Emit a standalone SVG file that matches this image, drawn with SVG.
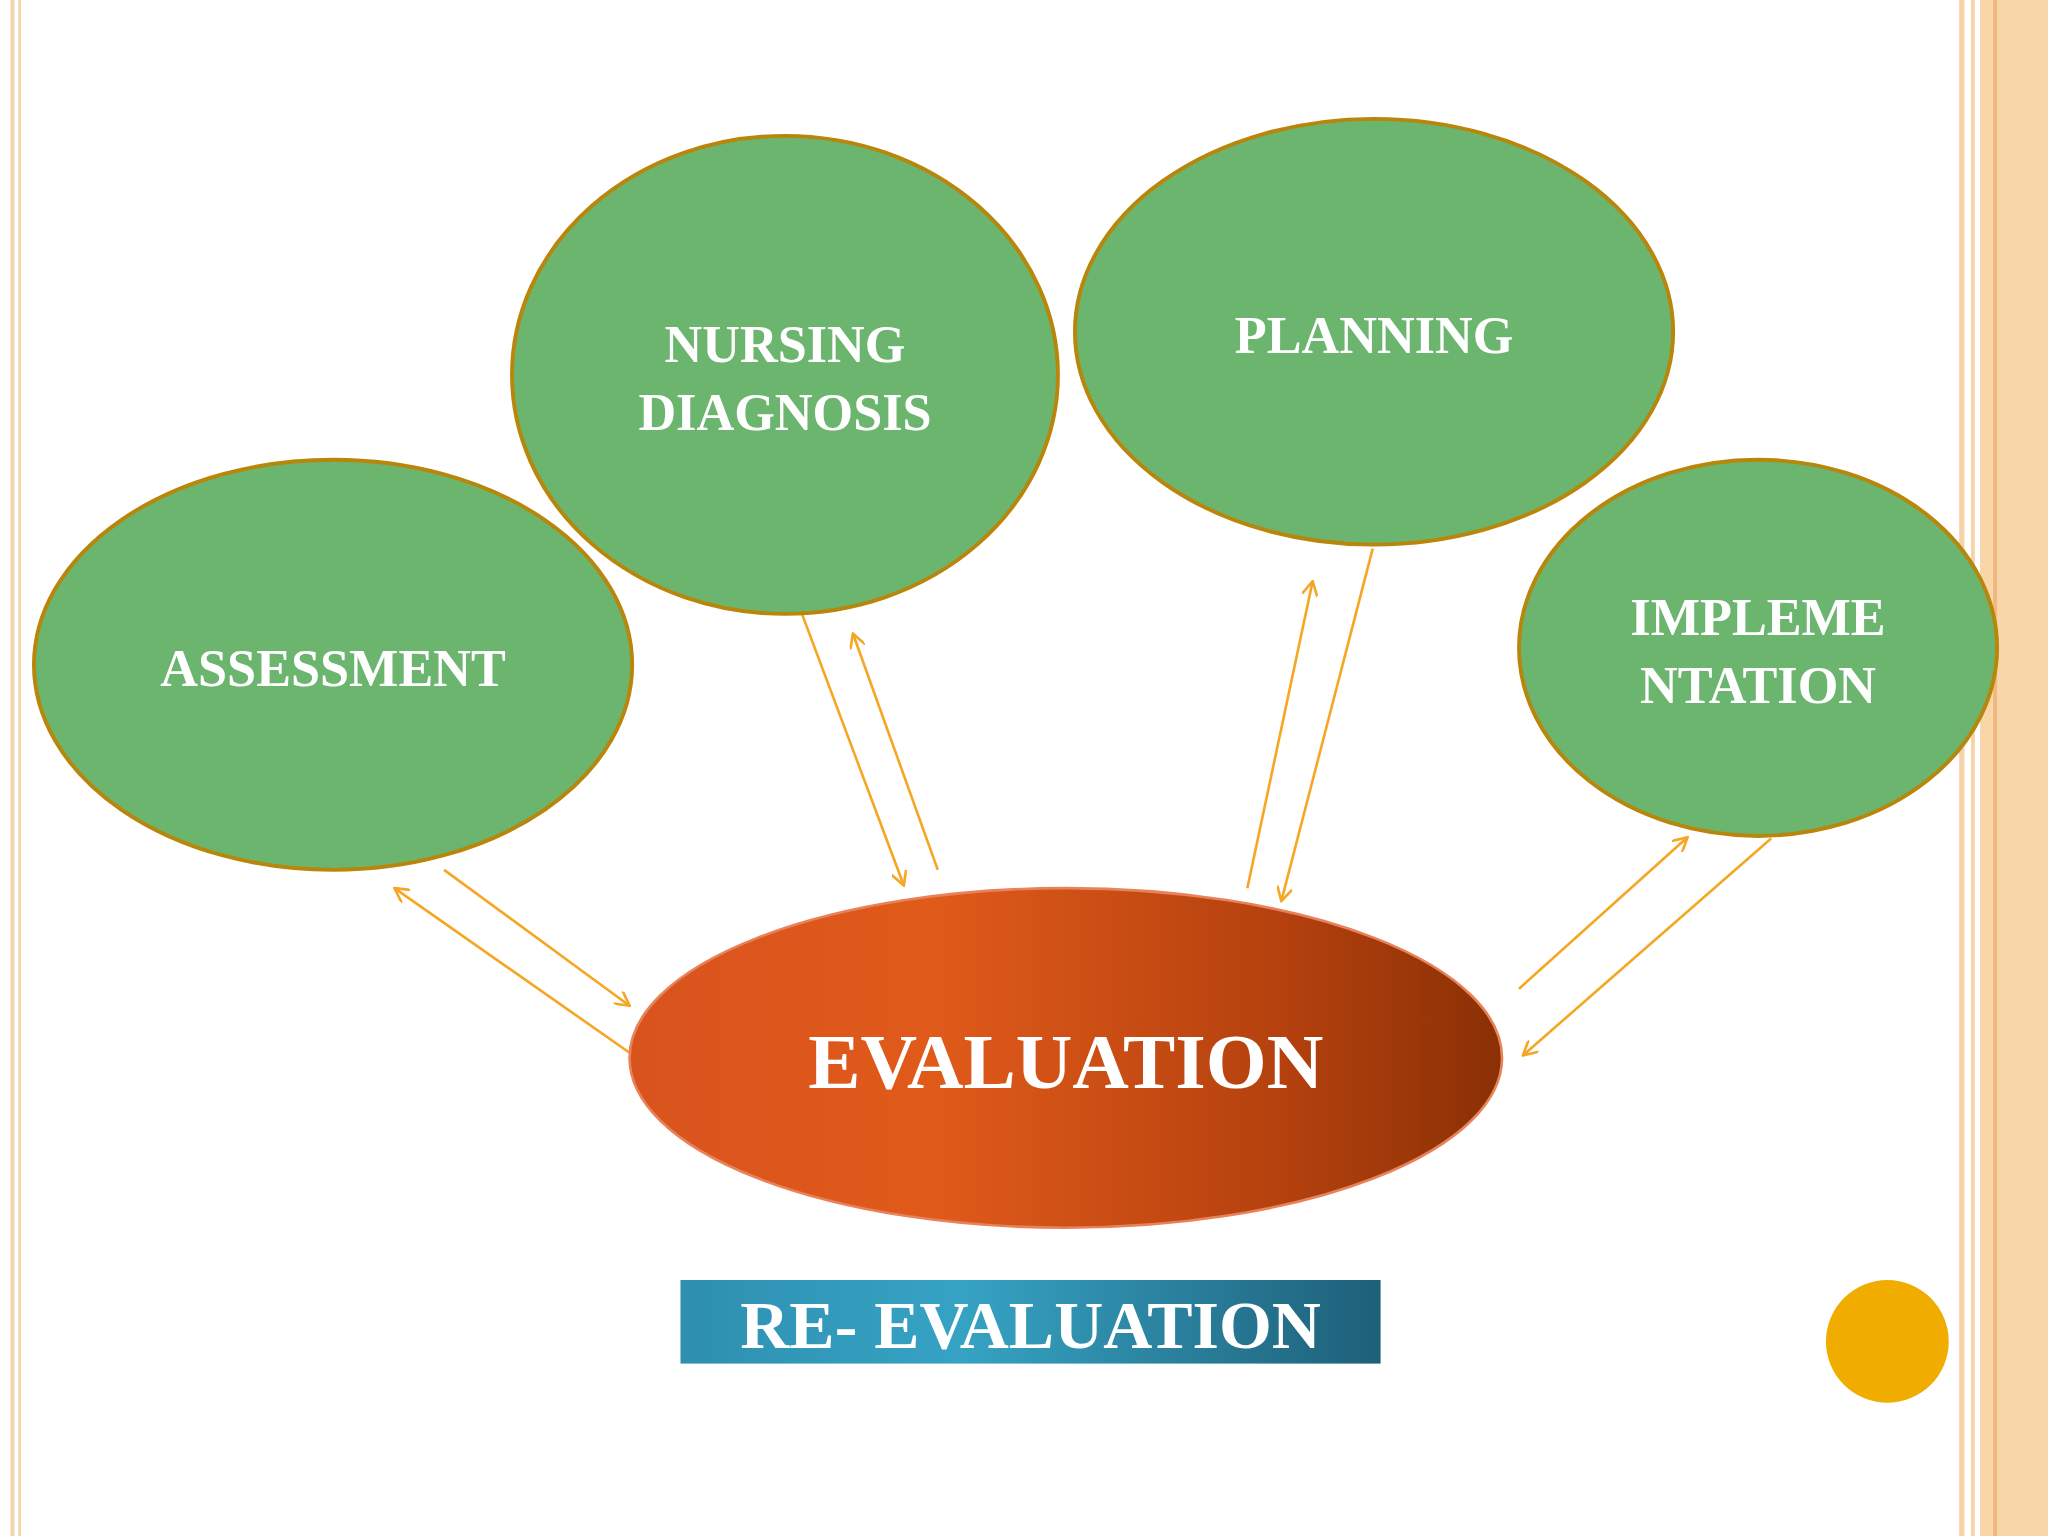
<svg xmlns="http://www.w3.org/2000/svg" width="2048" height="1536" viewBox="0 0 2048 1536">
<defs>
<style>
.n{fill:#6BB56F;stroke:#B8860B;stroke-width:3}
.t{font-family:"Liberation Serif",serif;font-weight:bold;fill:#fff;text-anchor:middle}
.c{stroke:#F5A623;stroke-width:2;fill:none;marker-end:url(#ah)}
</style>
<marker id="ah" viewBox="0 0 12 12" refX="11" refY="6" markerWidth="12" markerHeight="12" markerUnits="userSpaceOnUse" orient="auto">
<path d="M0,0 L11,6 L0,12" fill="none" stroke="#F5A623" stroke-width="2"/>
</marker>
<linearGradient id="eg" x1="0" y1="0" x2="1" y2="0">
<stop offset="0" stop-color="#D9531E"/><stop offset="0.35" stop-color="#E05A1A"/><stop offset="0.75" stop-color="#B4410E"/><stop offset="1" stop-color="#8A3005"/>
</linearGradient>
<linearGradient id="rg" x1="0" y1="0" x2="1" y2="0">
<stop offset="0" stop-color="#2E8FB0"/><stop offset="0.4" stop-color="#36A3C4"/><stop offset="1" stop-color="#1E5F78"/>
</linearGradient>
</defs>
<rect width="2048" height="1536" fill="#fff"/>
<g transform="scale(1.30612)">
<g id="border">
<rect x="8" y="0" width="3" height="1176" fill="#F6D3A8"/>
<rect x="14" y="0" width="2" height="1176" fill="#F6D3A8"/>
<rect x="1500" y="0" width="4" height="1176" fill="#F6D3A8"/>
<rect x="1509" y="0" width="3" height="1176" fill="#F6D3A8"/>
<rect x="1516" y="0" width="52" height="1176" fill="#F8D6A8"/>
<rect x="1526" y="0" width="3" height="1176" fill="#F0B880"/>
</g>
<g id="connectors">
<line class="c" x1="340" y1="666" x2="482" y2="770"/>
<line class="c" x1="482" y1="806" x2="302" y2="680"/>
<line class="c" x1="614" y1="470" x2="692" y2="678"/>
<line class="c" x1="718" y1="666" x2="653" y2="485"/>
<line class="c" x1="955" y1="680" x2="1005" y2="445"/>
<line class="c" x1="1051" y1="420" x2="981" y2="690"/>
<line class="c" x1="1163" y1="757" x2="1292" y2="641"/>
<line class="c" x1="1356" y1="642" x2="1166" y2="808"/>
</g>
<g id="assessment"><ellipse class="n" cx="255" cy="509" rx="229" ry="157"/><text class="t" x="255" y="525" font-size="40">ASSESSMENT</text></g>
<g id="nursing"><ellipse class="n" cx="601" cy="287" rx="209" ry="183"/><text class="t" x="601" y="277" font-size="40">NURSING</text><text class="t" x="601" y="329" font-size="40">DIAGNOSIS</text></g>
<g id="planning"><ellipse class="n" cx="1052" cy="254" rx="229" ry="163"/><text class="t" x="1052" y="270" font-size="40">PLANNING</text></g>
<g id="implementation"><ellipse class="n" cx="1346" cy="496" rx="183" ry="144"/><text class="t" x="1346" y="486" font-size="40">IMPLEME</text><text class="t" x="1346" y="538" font-size="40">NTATION</text></g>
<g id="evaluation"><ellipse cx="816" cy="810" rx="334" ry="130" fill="url(#eg)" stroke="#E8825A" stroke-width="2"/><text class="t" x="816" y="833" font-size="60">EVALUATION</text></g>
<g id="reevaluation"><rect x="521" y="980" width="536" height="64" fill="url(#rg)"/><text class="t" x="789" y="1032" font-size="52">RE- EVALUATION</text></g>
<circle cx="1445" cy="1027" r="47" fill="#F0AD00"/>
</g>
</svg>
